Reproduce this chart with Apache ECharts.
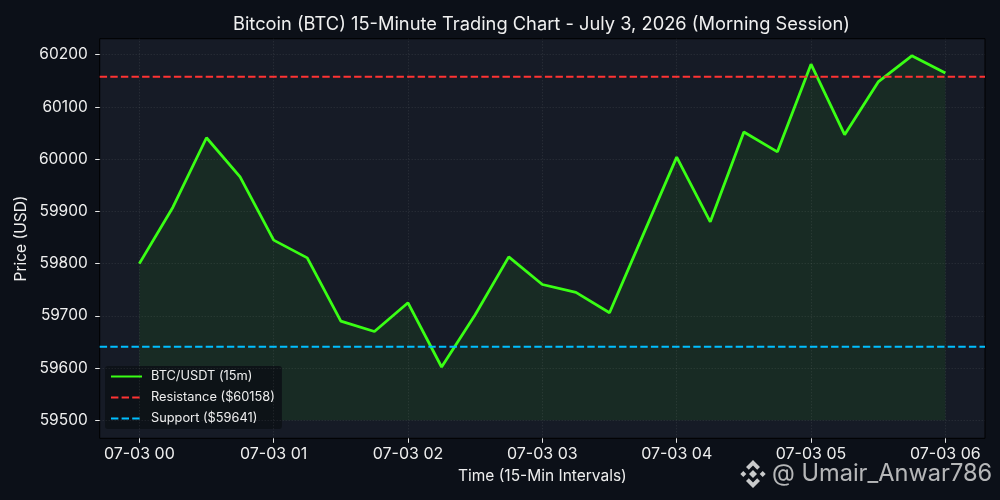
<!DOCTYPE html>
<html><head><meta charset="utf-8">
<style>html,body{margin:0;padding:0;background:#0c1018}#c{width:1000px;height:500px}</style>
<script src="https://cdn.jsdelivr.net/npm/echarts@6/dist/echarts.min.js"></script>
</head><body><div id="c"></div>
<script>
const titleText = 'Bitcoin (BTC) 15-Minute Trading Chart - July 3, 2026 (Morning Session)';
const prices = [59800,59908,60041,59966,59845,59811,59690,59670,59725,59602,59702,59813,59760,59745,59706,59855,60004,59880,60052,60014,60182,60047,60148,60198,60165];
const tickPositions = [0,4,8,12,16,20,24];
const tickLabels = ['07-03 00','07-03 01','07-03 02','07-03 03','07-03 04','07-03 05','07-03 06'];
const yTicks = [59500,59600,59700,59800,59900,60000,60100,60200];
const resistance = 60158;
const support = 59641;
const areaBase = 59500;
const xMin = -1.18, xMax = 25.18, yMin = 59465.5, yMax = 60230.7;
const font = 'Inter, "Noto Sans", sans-serif';
const chart = echarts.init(document.getElementById('c'), null, {renderer:'canvas'});
const axisBase = {
  axisLine:{show:false,onZero:false},
  axisTick:{show:true,length:4.5,lineStyle:{color:'#e8e8e8',width:1}},
  splitLine:{show:false}
};
const logoShapes = [
  [[14,0],[21,7],[18.2,9.8],[14,5.6],[9.8,9.8],[7,7]],
  [[14,28],[21,21],[18.2,18.2],[14,22.4],[9.8,18.2],[7,21]],
  [[4.3,11],[7.3,14],[4.3,17],[1.3,14]],
  [[23.7,11],[26.7,14],[23.7,17],[20.7,14]],
  [[14,10],[18,14],[14,18],[10,14]]
];
chart.setOption({
  animation:false,
  backgroundColor:'#0c1018',
  textStyle:{fontFamily:font},
  title:{text:titleText,left:536.5,top:11,textAlign:'center',textStyle:{color:'#f0f0f0',fontSize:18.3,fontWeight:'normal',fontFamily:font}},
  grid:{left:99.7,right:15,top:38.7,bottom:61.7,show:true,backgroundColor:'#161b26',borderColor:'#000',borderWidth:1},
  xAxis:Object.assign({type:'value',min:xMin,max:xMax,name:'Time (15-Min Intervals)',nameLocation:'middle',nameGap:30,
    nameTextStyle:{color:'#eee',fontSize:15.5,fontFamily:font},
    axisLabel:{color:'#eee',fontSize:16,margin:8,fontFamily:font,customValues:tickPositions,
      formatter:v=>tickLabels[tickPositions.indexOf(v)]||''}},axisBase,
    {axisTick:Object.assign({},axisBase.axisTick,{customValues:tickPositions})}),
  yAxis:Object.assign({type:'value',min:yMin,max:yMax,name:'Price (USD)',nameLocation:'middle',nameGap:70,nameMoveOverlap:false,
    nameTextStyle:{color:'#eee',fontSize:15.5,fontFamily:font},
    axisLabel:{color:'#eee',fontSize:15.5,margin:12,padding:[3,0,0,0],fontFamily:font,customValues:yTicks,formatter:v=>String(v)}},axisBase,
    {axisTick:Object.assign({},axisBase.axisTick,{customValues:yTicks})}),
  legend:{left:105,top:366,orient:'vertical',itemWidth:31,itemHeight:14,itemGap:8,padding:[4,7,4,5],
    backgroundColor:'rgba(13,17,23,0.92)',borderRadius:3,
    itemStyle:{opacity:0,color:'transparent',borderWidth:0},
    textStyle:{color:'#eee',fontSize:12.8,fontFamily:font,padding:[0,0,0,4]},
    data:['BTC/USDT (15m)','Resistance ($60158)','Support ($59641)']},
  series:[
    {name:'grid',type:'line',z:1,symbol:'none',data:[],silent:true,
     markLine:{silent:true,symbol:'none',animation:false,label:{show:false},
       lineStyle:{color:'rgba(255,255,255,0.13)',type:[1,2],width:0.8},
       data:tickPositions.map(v=>({xAxis:v})).concat(yTicks.map(v=>({yAxis:v})))}},
    {name:'BTC/USDT (15m)',type:'line',z:3,showSymbol:false,symbol:'none',smooth:false,
     data:prices.map((p,i)=>[i,p]),lineStyle:{color:'#39ff14',width:2.8},itemStyle:{color:'#39ff14'},
     areaStyle:{color:'rgba(57,255,20,0.1)',origin:areaBase}},
    {name:'Resistance ($60158)',type:'line',z:4,symbol:'none',data:[[xMin,resistance],[xMax,resistance]],
     lineStyle:{color:'#ff3333',width:2,type:[7.4,3.2]},itemStyle:{color:'#ff3333'}},
    {name:'Support ($59641)',type:'line',z:4,symbol:'none',data:[[xMin,support],[xMax,support]],
     lineStyle:{color:'#00bfff',width:2,type:[7.4,3.2]},itemStyle:{color:'#00bfff'}}
  ],
  graphic:logoShapes.map(points=>({type:'polygon',x:739,y:460,z:10,silent:true,shape:{points},
      style:{fill:'rgba(235,235,235,0.85)'}})).concat([
    {type:'text',left:772,top:462,z:10,silent:true,
     style:{text:'@ Umair_Anwar786',fill:'rgba(225,225,225,0.8)',font:'23.6px '+font}}
  ])
});
</script></body></html>
